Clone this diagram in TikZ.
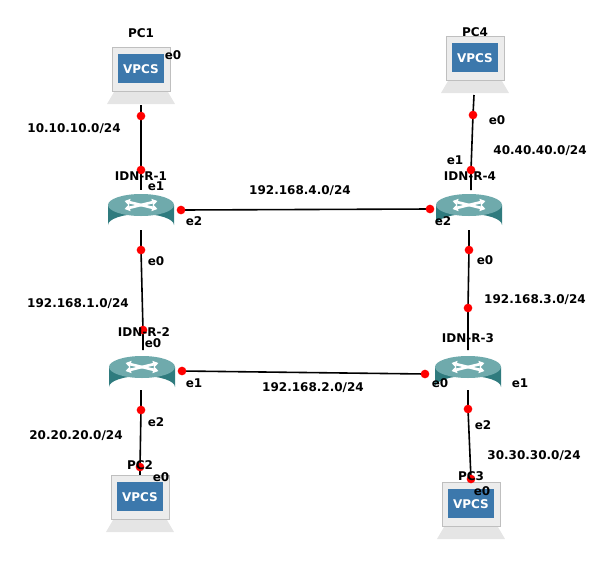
\documentclass[tikz,border=0pt]{standalone}
\usepackage{fontspec}
\setmainfont{DejaVu Sans}
\usetikzlibrary{arrows.meta}
\definecolor{rtop}{HTML}{6FAAAC}
\definecolor{rbody}{HTML}{2F7B7E}
\definecolor{scr}{HTML}{3C78AC}
\tikzset{
  lbl/.style={font=\fontsize{9}{11}\bfseries\selectfont, inner sep=0pt},
  dot/.style={circle, fill=red, inner sep=0pt, minimum size=6.5pt},
  link/.style={line width=1.2pt},
  router/.pic={
    \fill[rbody] (-33,-8) -- (-33,12) arc[start angle=180,end angle=360,x radius=33,y radius=11] -- (33,-8) -- cycle;
    \fill[rtop] (0,-8) ellipse[x radius=33,y radius=11];
    \foreach \a in {30,150,210,330}
      \draw[white, line width=2pt, -{Triangle[length=4pt,width=5pt]}] (0,-8) -- +({19*cos(\a)},{8*sin(\a)});
  },
  pc/.pic={
    \fill[gray!20] (-34,27) -- (34,27) -- (27,15) -- (-27,15) -- cycle;
    \fill[gray!15, draw=gray!50] (-29,-30) rectangle (29,14);
    \fill[scr] (-23,-23) rectangle (23,6);
    \node[lbl, text=white] at (0,-8) {VPCS};
  }
}
\begin{document}
\begin{tikzpicture}[x=0.75pt, y=-0.75pt]
\useasboundingbox (0,0) rectangle (615,569);
% interface points
\coordinate (pc1e0) at (141,116);  \coordinate (r1e1) at (141,170);
\coordinate (r1e2) at (181,210);   \coordinate (r4e2) at (430,209);
\coordinate (r1e0) at (141,250);   \coordinate (r2e0) at (143,330);
\coordinate (r2e1) at (182,371);   \coordinate (r3e0) at (425,374);
\coordinate (r4e0) at (469,250);   \coordinate (r3top) at (468,308);
\coordinate (r2e2) at (141,410);   \coordinate (pc2e0) at (140,467);
\coordinate (r3e2) at (468,409);   \coordinate (pc3e0) at (471,479);
\coordinate (pc4e0) at (473,115);  \coordinate (r4e1) at (471,170);
% links
\draw[link] (141,105) -- (pc1e0) -- (r1e1) -- (141,190);
\draw[link] (r1e2) -- (r4e2);
\draw[link] (141,230) -- (r1e0) -- (r2e0) -- (143,350);
\draw[link] (r2e1) -- (r3e0);
\draw[link] (469,230) -- (r4e0) -- (r3top) -- (468,350);
\draw[link] (141,390) -- (r2e2) -- (pc2e0) -- (140,480);
\draw[link] (468,390) -- (r3e2) -- (pc3e0) -- (471,490);
\draw[link] (474,95) -- (pc4e0) -- (r4e1) -- (471,190);
% devices
\pic at (141,77) {pc};
\pic at (140,505) {pc};
\pic at (471,512) {pc};
\pic at (475,66) {pc};
\pic at (141,213) {router};
\pic at (469,213) {router};
\pic at (142,375) {router};
\pic at (468,375) {router};
% dots
\foreach \p in {pc1e0,r1e1,r1e2,r4e2,r1e0,r2e0,r2e1,r3e0,r4e0,r3top,r2e2,pc2e0,r3e2,pc3e0,pc4e0,r4e1}
  \node[dot] at (\p) {};
% names
\node[lbl] (pc1) at (141,33) {PC1};
\node[lbl] (pc4) at (475,32) {PC4};
\node[lbl] (pc2) at (140,465) {PC2};
\node[lbl] (pc3) at (471,476) {PC3};
\node[lbl] (r1) at (141,176) {IDN-R-1};
\node[lbl] (r4) at (470,176) {IDN-R-4};
\node[lbl] (r2) at (144,332) {IDN-R-2};
\node[lbl] (r3) at (468,338) {IDN-R-3};
% networks
\node[lbl] at (74,129) {10.10.10.0/24};
\node[lbl] at (300,191) {192.168.4.0/24};
\node[lbl] at (78,304) {192.168.1.0/24};
\node[lbl] at (313,388) {192.168.2.0/24};
\node[lbl] at (535,300) {192.168.3.0/24};
\node[lbl] at (540,151) {40.40.40.0/24};
\node[lbl] at (76,436) {20.20.20.0/24};
\node[lbl] at (534,456) {30.30.30.0/24};
% interfaces
\foreach \x/\y/\t in {173/55/e0, 156/186/e1, 194/221/e2, 156/261/e0, 153/343/e0, 194/383/e1,
  156/422/e2, 161/477/e0, 455/160/e1, 443/221/e2, 485/260/e0, 497/120/e0, 440/383/e0,
  520/383/e1, 483/425/e2, 482/491/e0}
  \node[lbl] at (\x,\y) {\t};
\end{tikzpicture}
\end{document}
